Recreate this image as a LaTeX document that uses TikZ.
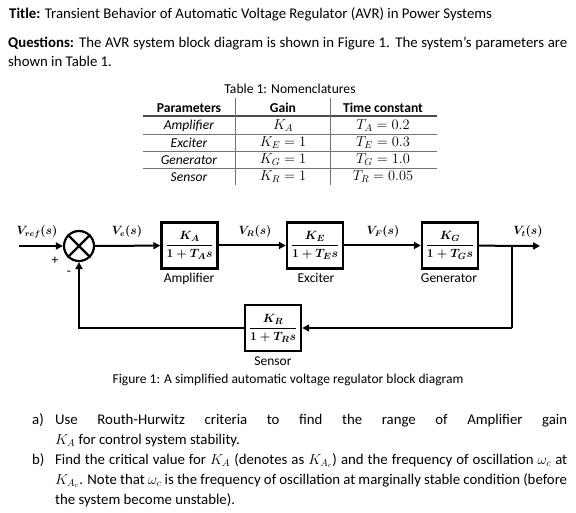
\documentclass[tikz,border=0pt]{standalone}
\usepackage{amsmath}
\usepackage{fontspec}
\setmainfont{Carlito}
\usetikzlibrary{arrows.meta}
\begin{document}
\begin{tikzpicture}[x=1pt,y=-1pt,
  txt/.style={inner sep=0pt, font=\fontsize{14.8}{19}\selectfont},
  tab/.style={inner sep=0pt, font=\fontsize{13.6}{15}\selectfont},
  tline/.style={line width=0.9pt, draw=black!55},
  blk/.style={draw, line width=2.4pt, minimum width=56pt, minimum height=46pt, inner sep=0pt, font=\fontsize{12.5}{14}\selectfont\boldmath},
  lbl/.style={inner sep=0pt, font=\fontsize{12}{14}\selectfont\boldmath},
  capt/.style={inner sep=0pt, font=\fontsize{13.5}{15}\selectfont},
  wire/.style={line width=2pt},
  sig/.style={line width=2pt, -{Triangle[length=7pt,width=7pt]}}]
\useasboundingbox[fill=white] (0,0) rectangle (576,513);

% header text
\node[txt, anchor=base west] (title) at (9,19) {\textbf{Title:} Transient Behavior of Automatic Voltage Regulator (AVR) in Power Systems};
\node[txt, anchor=base west] (quest) at (8,48) {\parbox[t]{559pt}{\fontsize{14.8}{19}\selectfont\textbf{Questions:} The AVR system block diagram is shown in Figure 1. The system’s parameters are\linebreak shown in Table 1.}};

% table
\node[tab] (tabcap) at (290,89) {Table 1: Nomenclatures};
\node[tab] (hpar) at (189,108) {\textbf{Parameters}};
\node[tab] (hgain) at (283,108) {\textbf{Gain}};
\node[tab] (htime) at (383,108) {\textbf{Time constant}};
\node[tab] (pa) at (189,126) {\textit{Amplifier}};
\node[tab] (pe) at (189,143) {\textit{Exciter}};
\node[tab] (pg) at (189,160) {\textit{Generator}};
\node[tab] (ps) at (189,177) {\textit{Sensor}};
\node[tab] (ga) at (283,126) {$K_A$};
\node[tab] (ge) at (283,143) {$K_E = 1$};
\node[tab] (gg) at (283,160) {$K_G = 1$};
\node[tab] (gs) at (283,177) {$K_R = 1$};
\node[tab] (ta) at (383,126) {$T_A = 0.2$};
\node[tab] (te) at (383,143) {$T_E = 0.3$};
\node[tab] (tg) at (383,160) {$T_G = 1.0$};
\node[tab] (ts) at (383,177) {$T_R = 0.05$};
\draw[tline, line width=1.3pt, draw=black!70] (143,116) -- (437,116);
\draw[tline] (143,134) -- (437,134);
\draw[tline] (143,151) -- (437,151);
\draw[tline] (143,168) -- (437,168);
\draw[tline] (235,98) -- (235,185);
\draw[tline] (330,98) -- (330,185);

% block diagram
\node[circle, draw, line width=2.2pt, minimum size=30pt, inner sep=0pt] (sum) at (79,246) {};
\draw[line width=2.2pt] (sum.north west) -- (sum.south east);
\draw[line width=2.2pt] (sum.north east) -- (sum.south west);
\node[blk] (amp) at (189.5,245.5) {$\dfrac{K_A}{1+T_A s}$};
\node[blk] (exc) at (315,245.5) {$\dfrac{K_E}{1+T_E s}$};
\node[blk] (gen) at (450,245.5) {$\dfrac{K_G}{1+T_G s}$};
\node[blk] (sen) at (273,328) {$\dfrac{K_R}{1+T_R s}$};

\coordinate (in) at (19,246);
\coordinate (out) at (540,246);
\coordinate (br) at (512,246);
\coordinate (brd) at (512,328);
\coordinate (fbl) at (79,328);

\draw[sig] (in) -- (sum);
\draw[sig] (sum) -- (amp);
\draw[sig] (amp) -- (exc);
\draw[sig] (exc) -- (gen);
\draw[sig] (gen) -- (out);
\draw[wire] (br) -- (brd);
\draw[sig] (brd) -- (sen);
\draw[sig] (sen) -- (fbl) -- (sum);

\node[lbl] (lref) at (37,232) {$V_{ref}(s)$};
\node[lbl] (le) at (127,232) {$V_e(s)$};
\node[lbl] (lr) at (255,232) {$V_R(s)$};
\node[lbl] (lf) at (383,232) {$V_F(s)$};
\node[lbl] (lt) at (528,232) {$V_t(s)$};
\node[capt] (plus) at (55,261) {+};
\node[capt] (minus) at (69,273) {-};

\node[capt] (camp) at (189,279) {Amplifier};
\node[capt] (cexc) at (316,278) {Exciter};
\node[capt] (cgen) at (449,278) {Generator};
\node[capt] (csen) at (273,361) {Sensor};
\node[capt] (figcap) at (288,380) {Figure 1: A simplified automatic voltage regulator block diagram};

% questions
\node[txt, anchor=base west] (qs) at (32,424) {\parbox[t]{535pt}{\fontsize{14.8}{20}\selectfont
\spaceskip=0.226em plus 0.4em minus 0.09em
\hangindent=23pt\hangafter=1\makebox[23pt][l]{a)}Use Routh-Hurwitz criteria to find the range of Amplifier gain\linebreak $K_A$ for control system stability.\par
\hangindent=23pt\hangafter=1\makebox[23pt][l]{b)}Find the critical value for $K_A$ (denotes as $K_{A_c}$) and the frequency of oscillation $\omega_c$ at\linebreak $K_{A_c}$. Note that $\omega_c$ is the frequency of oscillation at marginally stable condition (before\linebreak the system become unstable).}};
\end{tikzpicture}
\end{document}
